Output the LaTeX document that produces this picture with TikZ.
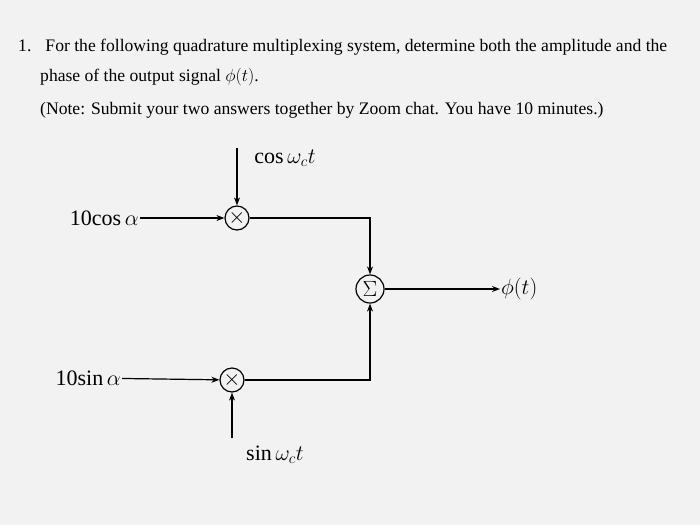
\documentclass[tikz,border=0pt]{standalone}
\usepackage{fix-cm}
\usepackage{fontspec}
\setmainfont{Liberation Serif}
\usetikzlibrary{arrows.meta}
\begin{document}
\begin{tikzpicture}[x=1pt,y=-1pt,
  txt/.style={anchor=west,font=\fontsize{17.6}{19}\selectfont,inner sep=0},
  lbl/.style={font=\fontsize{22}{24}\selectfont,inner sep=1pt},
  mult/.style={circle,draw,very thick,minimum size=24pt,inner sep=0,font=\fontsize{22}{24}\selectfont},
  arr/.style={very thick,-{Stealth[length=8pt]}}]
\fill[gray!10] (0,0) rectangle (700,525);
\useasboundingbox (0,0) rectangle (700,525);
\node[txt] (t1) at (18,47) {1.\hspace{0.8em}For the following quadrature multiplexing system, determine both the amplitude and the};
\node[txt] (t2) at (40,77) {phase of the output signal $\phi(t)$.};
\node[txt] (t3) at (40,110) {(Note: Submit your two answers together by Zoom chat. You have 10 minutes.)};
\node[mult] (m1) at (237,218) {$\times$};
\node[mult] (m2) at (232,380) {$\times$};
\node[mult,minimum size=28pt] (s) at (370,289) {$\Sigma$};
\node[lbl] (c) at (285,158) {$\cos\omega_c t$};
\node[lbl] (sn) at (275,455) {$\sin\omega_c t$};
\node[lbl,anchor=east] (a) at (140,218) {10$\cos\alpha$};
\node[lbl,anchor=east] (b) at (122,378) {10$\sin\alpha$};
\node[lbl,anchor=west] (p) at (500,289) {$\phi(t)$};
\coordinate (ct) at (237,148);
\coordinate (sb) at (232,438);
\draw[arr] (ct) -- (m1);
\draw[arr] (sb) -- (m2);
\draw[arr] (a) -- (m1);
\draw[arr] (b) -- (m2);
\draw[arr] (m1.east) -| (s.north);
\draw[arr] (m2.east) -| (s.south);
\draw[arr] (s.east) -- (p.west);
\end{tikzpicture}
\end{document}
